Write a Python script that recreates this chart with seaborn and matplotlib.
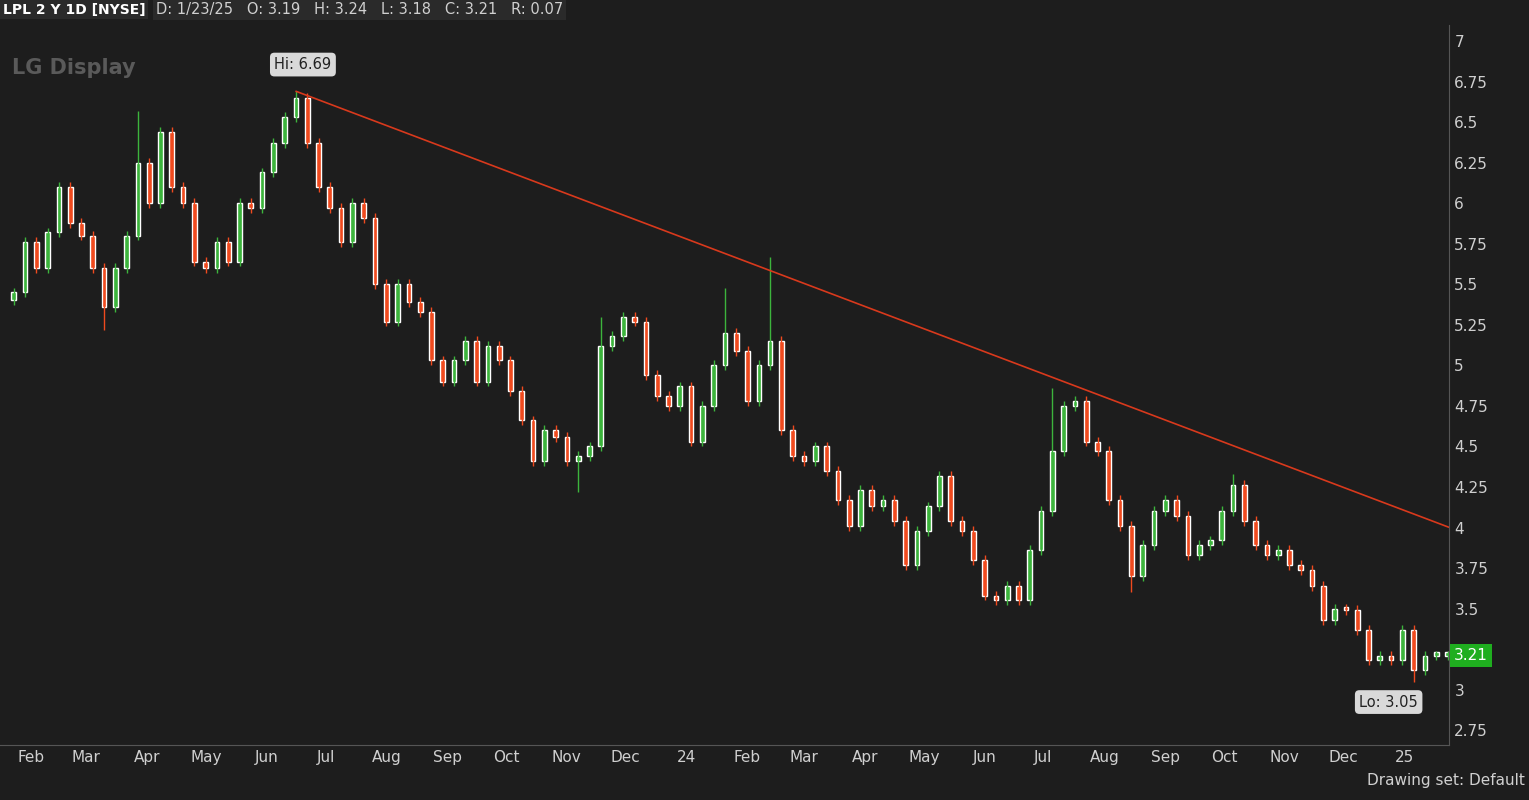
import pandas as pd
import numpy as np
import matplotlib
matplotlib.use('Agg')
import matplotlib.pyplot as plt
import matplotlib.dates as mdates
import seaborn as sns

# approximate closes, sampled roughly every 4 trading days, Jan 2023 - Jan 2025
closes = [5.45, 5.76, 5.6, 5.82, 6.1, 5.88, 5.8, 5.6, 5.36, 5.6, 5.8, 6.25, 6.0, 6.44, 6.1,
          6.0, 5.64, 5.6, 5.76, 5.64, 6.0, 5.97, 6.19, 6.37, 6.53, 6.65, 6.37, 6.1, 5.97, 5.76,
          6.0, 5.91, 5.5, 5.27, 5.5, 5.39, 5.33, 5.03, 4.9, 5.03, 5.15, 4.9, 5.12, 5.03, 4.84,
          4.66, 4.41, 4.6, 4.56, 4.41, 4.44, 4.5, 5.12, 5.18, 5.3, 5.27, 4.94, 4.81, 4.75, 4.87,
          4.53, 4.75, 5.0, 5.2, 5.09, 4.78, 5.0, 5.15, 4.6, 4.44, 4.41, 4.5, 4.35, 4.17, 4.01,
          4.23, 4.13, 4.17, 4.04, 3.77, 3.98, 4.13, 4.32, 4.04, 3.98, 3.8, 3.58, 3.55, 3.64, 3.55,
          3.86, 4.1, 4.47, 4.75, 4.78, 4.53, 4.47, 4.17, 4.01, 3.7, 3.89, 4.1, 4.17, 4.07, 3.83,
          3.89, 3.92, 4.1, 4.26, 4.04, 3.89, 3.83, 3.86, 3.77, 3.74, 3.64, 3.43, 3.5, 3.49, 3.37,
          3.18, 3.21, 3.18, 3.37, 3.12, 3.21, 3.21, 3.21]
# a few visible wick spikes (index, high)
spike_idx = [11, 25, 52, 63, 67, 92, 108]
spike_high = [6.57, 6.69, 5.3, 5.48, 5.67, 4.86, 4.33]
low_idx = [8, 50, 99, 124]
low_val = [5.22, 4.22, 3.6, 3.05]

hi_price, lo_price, last_price = 6.69, 3.05, 3.21
trend_end = 4.0

dates = pd.date_range('2023-01-23', '2025-01-23', periods=len(closes))
df = pd.DataFrame({'date': dates, 'close': closes})
df['open'] = df['close'].shift(1).fillna(df['close'].iloc[0] - 0.05)
df['high'] = df[['open', 'close']].max(axis=1) + 0.03
df['low'] = df[['open', 'close']].min(axis=1) - 0.03
for i, h in zip(spike_idx, spike_high):
    df.loc[i, 'high'] = h
for i, l in zip(low_idx, low_val):
    df.loc[i, 'low'] = l

sns.set_style('dark')
bg = '#1d1d1d'
fig = plt.figure(figsize=(15.29, 8), dpi=100, facecolor=bg)
ax = fig.add_axes([0.0, 0.069, 0.948, 0.9])
ax.set_facecolor(bg)

up = df['close'] >= df['open']
colors = np.where(up, '#3cb43c', '#f04a1e')
w = pd.Timedelta(days=2.4)
ax.vlines(df['date'], df['low'], df['high'], colors=colors, lw=1)
ax.bar(df['date'], (df['close'] - df['open']).abs().clip(lower=0.02),
       bottom=df[['open', 'close']].min(axis=1), width=w, color=colors, align='center')

hi_date = df['date'].iloc[25]
end_date = pd.Timestamp('2025-01-24')
ax.plot([hi_date, end_date], [hi_price, trend_end], color='#d8391c', lw=1.2)

ax.set_xlim(pd.Timestamp('2023-01-16'), pd.Timestamp('2025-01-24'))
ax.set_ylim(2.66, 7.1)
ax.yaxis.tick_right()
ax.set_yticks([2.75, 3, 3.25, 3.5, 3.75, 4, 4.25, 4.5, 4.75, 5, 5.25, 5.5, 5.75, 6, 6.25, 6.5, 6.75, 7])
ax.set_yticklabels(['2.75', '3', '', '3.5', '3.75', '4', '4.25', '4.5', '4.75', '5', '5.25', '5.5',
                    '5.75', '6', '6.25', '6.5', '6.75', '7'])
ax.xaxis.set_major_locator(mdates.MonthLocator())
ax.xaxis.set_major_formatter(plt.FuncFormatter(
    lambda v, p: mdates.num2date(v).strftime('%y') if mdates.num2date(v).month == 1 else mdates.num2date(v).strftime('%b')))
ax.tick_params(colors='#cfcfcf', labelsize=11, length=0)
ax.grid(False)
for s in ax.spines.values():
    s.set_visible(False)
ax.spines['bottom'].set_visible(True)
ax.spines['bottom'].set_color('#555555')
ax.spines['right'].set_visible(True)
ax.spines['right'].set_color('#555555')

ax.annotate(f'Hi: {hi_price}', (hi_date, hi_price), xytext=(5, 16), textcoords='offset points',
            ha='center', fontsize=10.5, color='#222222',
            bbox=dict(boxstyle='round,pad=0.3', fc='#d9d9d9', ec='none'))
ax.annotate(f'Lo: {lo_price}', (df['date'].iloc[124], lo_price), xytext=(-18, -18), textcoords='offset points',
            ha='center', fontsize=10.5, color='#222222',
            bbox=dict(boxstyle='round,pad=0.3', fc='#d9d9d9', ec='none'))
ax.text(1.003, last_price, f'{last_price}', transform=ax.get_yaxis_transform(), va='center', ha='left',
        fontsize=11, color='white', bbox=dict(boxstyle='square,pad=0.25', fc='#1fae1f', ec='none'))
ax.text(0.008, 0.94, 'LG Display', transform=ax.transAxes, fontsize=15, color='#5a5a5a',
        fontweight='bold', va='center')

fig.text(0.002, 0.988, 'LPL 2 Y 1D [NYSE]', color='white', fontsize=10, fontweight='bold', va='center',
         bbox=dict(fc='#2a2a2a', ec='none', pad=2))
fig.text(0.102, 0.988, 'D: 1/23/25   O: 3.19   H: 3.24   L: 3.18   C: 3.21   R: 0.07', color='#d0d0d0',
         fontsize=10.5, va='center', bbox=dict(fc='#2a2a2a', ec='none', pad=2))
fig.text(0.997, 0.024, 'Drawing set: Default', color='#d0d0d0', fontsize=11, ha='right', va='center')

fig.savefig('out.png', dpi=100, facecolor=bg)
